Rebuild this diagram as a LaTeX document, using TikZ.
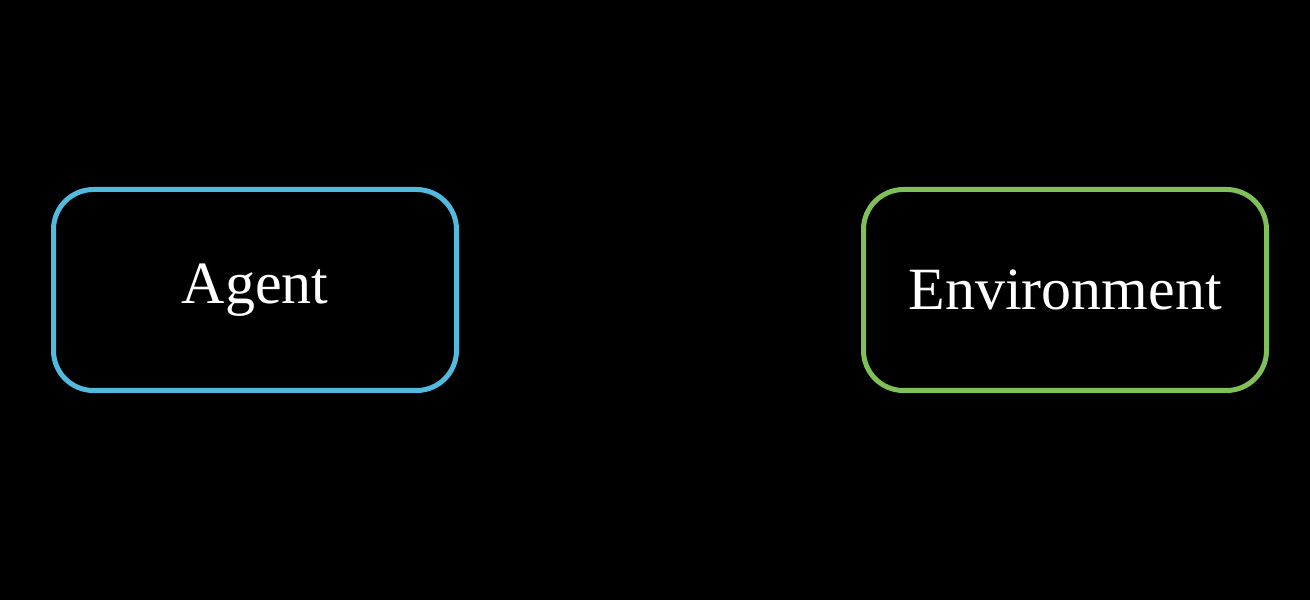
\documentclass[tikz,border=0pt]{standalone}
\usepackage{fontspec}
\setmainfont{Liberation Serif}
\definecolor{agentblue}{RGB}{82,186,222}
\definecolor{envgreen}{RGB}{128,192,88}
\begin{document}
\begin{tikzpicture}[x=1pt,y=1pt,
  box/.style={draw, line width=5pt, rounded corners=40pt, minimum width=403pt, minimum height=201pt, inner sep=0pt, text=white, font=\fontsize{60}{72}\selectfont}]
\fill[black] (0,0) rectangle (1310,600);
\useasboundingbox (0,0) rectangle (1310,600);
\node[box, draw=agentblue] (agent) at (255,310) {Agent};
\node[box, draw=envgreen] (env) at (1065,310) {Environment};
\end{tikzpicture}
\end{document}
